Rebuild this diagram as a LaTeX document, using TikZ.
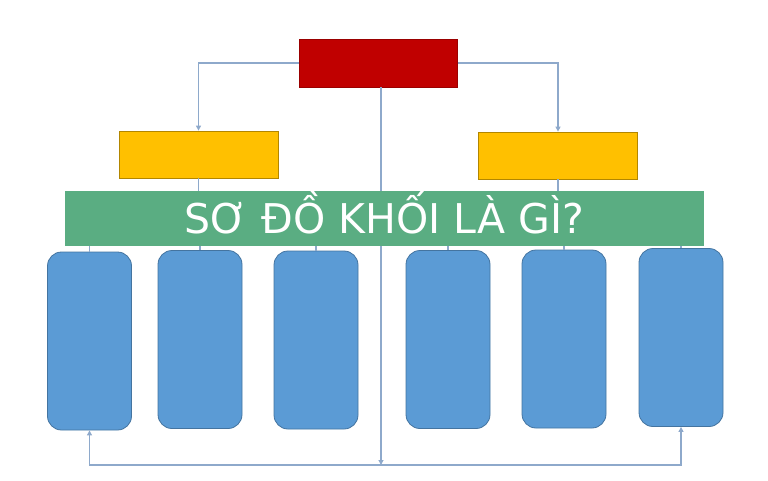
\documentclass[tikz,border=0pt]{standalone}
\usepackage{fontspec}
\setmainfont{DejaVu Sans}
\usetikzlibrary{arrows.meta}
\definecolor{topred}{HTML}{C00000}
\definecolor{midyellow}{HTML}{FFC000}
\definecolor{bannergreen}{HTML}{5AAD82}
\definecolor{leafblue}{HTML}{5B9BD5}
\definecolor{wireblue}{HTML}{8EA9CB}
\begin{document}
\begin{tikzpicture}[x=1pt,y=-1pt,
    wire/.style={draw=wireblue,line width=1.1pt},
    arr/.style={wire,-{Triangle[width=5pt,length=5pt]}},
    topbox/.style={draw=topred!80!black,fill=topred,line width=0.8pt,minimum width=158pt,minimum height=48pt,inner sep=0pt},
    midbox/.style={draw=midyellow!70!black,fill=midyellow,line width=0.8pt,minimum width=159pt,minimum height=47pt,inner sep=0pt},
    leafbox/.style={draw=leafblue!75!black,fill=leafblue,line width=0.8pt,rounded corners=14pt,minimum width=84pt,minimum height=178pt,inner sep=0pt}]
      \useasboundingbox (0,0) rectangle (768,480);
      \coordinate (R) at (378.5,63);
      \coordinate (YL) at (198.5,154.5);
      \coordinate (YR) at (558,155.5);
      \coordinate (BUS) at (381,465);
      \node[topbox] (red) at (R) {};
      \node[midbox] (yl) at (YL) {};
      \node[midbox] (yr) at (YR) {};
      \node[leafbox] (b1) at (89.5,341) {};
      \node[leafbox] (b2) at (200,339.5) {};
      \node[leafbox] (b3) at (316,340) {};
      \node[leafbox] (b4) at (448,339.5) {};
      \node[leafbox] (b5) at (564,339) {};
      \node[leafbox] (b6) at (681,337.5) {};
      % links hidden under the banner
      \draw[wire] (yl.south) -- ++(0,36) -| (b1.north);
      \draw[wire] (yl.south) -- ++(0,36) -| (b2.north);
      \draw[wire] (yl.south) -- ++(0,36) -| (b3.north);
      \draw[wire] (yr.south) -- ++(0,36) -| (b4.north);
      \draw[wire] (yr.south) -- ++(0,36) -| (b5.north);
      \draw[wire] (yr.south) -- ++(0,36) -| (b6.north);
      \draw[arr] (red.west) -| (yl.north);
      \draw[arr] (red.east) -| (yr.north);
      \draw[arr] (red.south -| BUS) -- (BUS);
      \draw[arr] (BUS) -| (b1.south);
      \draw[arr] (BUS) -| (b6.south);
      \node[fill=bannergreen,text=white,minimum width=639pt,minimum height=55pt,inner sep=0pt,
            font=\fontsize{41}{41}\selectfont,text height=30pt,text depth=0pt] (banner) at (384.5,218.5)
            {SƠ ĐỒ KHỐI LÀ GÌ?};
    \end{tikzpicture}
\end{document}
